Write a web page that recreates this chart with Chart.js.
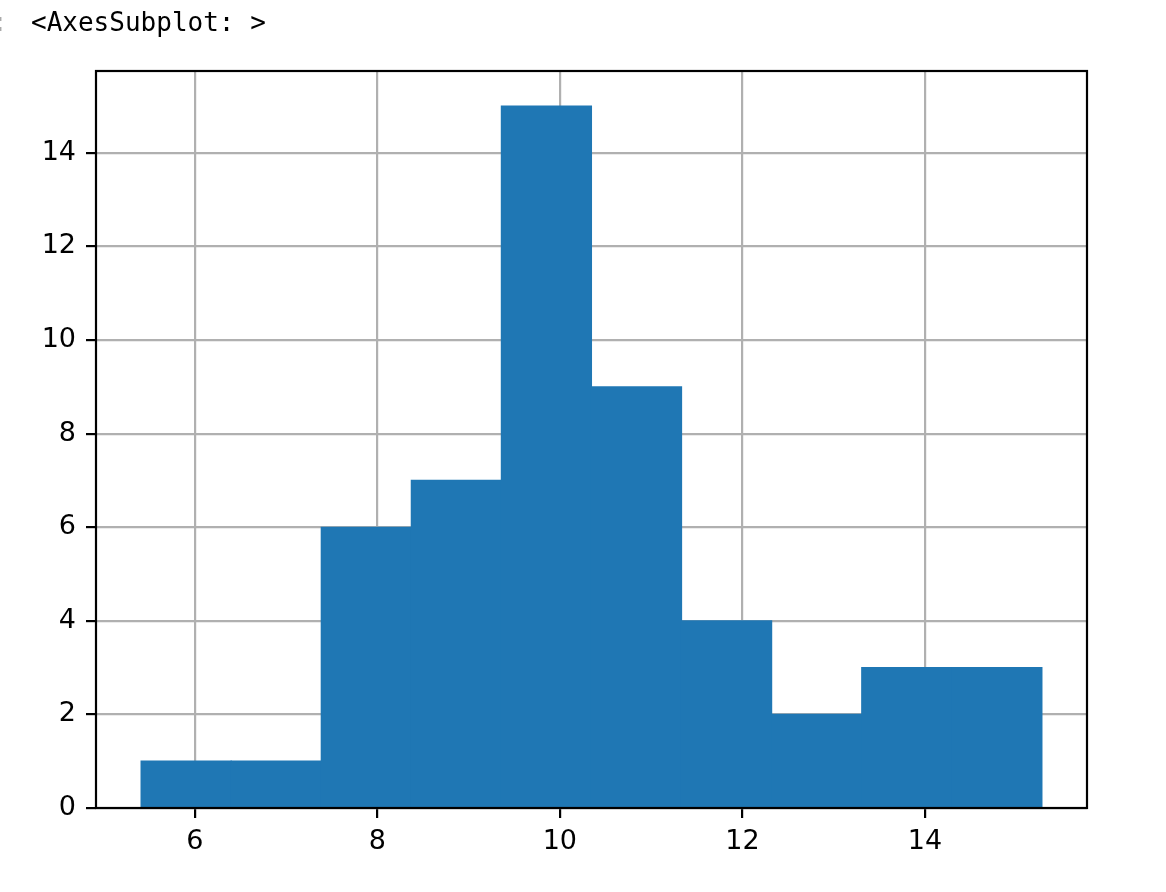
<!DOCTYPE html>
<html>
<head>
<meta charset="utf-8">
<title>Histogram</title>
<script src="https://cdn.jsdelivr.net/npm/chart.js@4.4.1/dist/chart.umd.min.js"></script>
<style>
  html, body { margin: 0; padding: 0; background: #fff; }
  #wrap { position: relative; width: 1166px; height: 892px; overflow: hidden; }
  canvas { position: absolute; left: 0; top: 0; }
  .out { position: absolute; top: 9px; font-family: "DejaVu Sans Mono", monospace; font-size: 26px; line-height: 26px; white-space: pre; z-index: 2; }
  #prompt { left: -8px; color: #aaa; }
  #repr { left: 31px; color: #000; }
</style>
</head>
<body>
<div id="wrap">
  <div class="out" id="prompt">:</div>
  <div class="out" id="repr">&lt;AxesSubplot: &gt;</div>
  <canvas id="hist" width="1166" height="892"></canvas>
</div>
<script>
// histogram bins (10 bins)
const binEdges = [5.412, 6.399, 7.386, 8.373, 9.359, 10.346, 11.333, 12.320, 13.307, 14.294, 15.281];
const binCounts = [1, 1, 6, 7, 15, 9, 4, 2, 3, 3];

// axes
const xTickValues = [6, 8, 10, 12, 14];
const yTickValues = [0, 2, 4, 6, 8, 10, 12, 14];
const xRange = [4.918, 15.775];
const yRange = [0, 15.75];

const barColor = '#1f77b4';
const gridColor = '#b0b0b0';
const tickFont = { family: 'DejaVu Sans', size: 27 };

// matplotlib draws a full box round the axes
const framePlugin = {
    id: 'frame',
    afterDraw(chart) {
        const { ctx, chartArea: a } = chart;
        ctx.save();
        ctx.strokeStyle = '#000';
        ctx.lineWidth = 2.2;
        ctx.strokeRect(a.left, a.top, a.right - a.left, a.bottom - a.top);
        ctx.restore();
    }
};

const ctx = document.getElementById('hist').getContext('2d');

new Chart(ctx, {
    type: 'bar',
    data: {
        datasets: [{
            data: binCounts.map((c, i) => ({ x: (binEdges[i] + binEdges[i + 1]) / 2, y: c })),
            backgroundColor: barColor,
            borderWidth: 0,
            inflateAmount: 0.6, // hide seams between touching bins
            barPercentage: 1,
            categoryPercentage: 1
        }]
    },
    options: {
        responsive: false,
        devicePixelRatio: 1,
        animation: false,
        layout: { padding: { left: 0, top: 71, right: 79, bottom: 0 } },
        plugins: {
            legend: { display: false },
            tooltip: { enabled: false }
        },
        scales: {
            x: {
                type: 'linear',
                min: xRange[0],
                max: xRange[1],
                offset: false,
                z: 1, // grid over the bars, like pandas' hist
                afterBuildTicks: (scale) => { scale.ticks = xTickValues.map(v => ({ value: v })); },
                afterFit: (scale) => { scale.height = 84; },
                grid: {
                    color: gridColor,
                    lineWidth: 2.2,
                    offset: false,
                    drawTicks: true,
                    tickLength: 10,
                    tickColor: '#000',
                    tickWidth: 2.2
                },
                border: { display: false },
                ticks: {
                    color: '#000',
                    font: tickFont,
                    padding: 8,
                    maxRotation: 0,
                    autoSkip: false
                }
            },
            y: {
                type: 'linear',
                min: yRange[0],
                max: yRange[1],
                z: 1,
                afterBuildTicks: (scale) => { scale.ticks = yTickValues.map(v => ({ value: v })); },
                afterFit: (scale) => { scale.width = 96; },
                grid: {
                    color: gridColor,
                    lineWidth: 2.2,
                    drawTicks: true,
                    tickLength: 10,
                    tickColor: '#000',
                    tickWidth: 2.2
                },
                border: { display: false },
                ticks: {
                    color: '#000',
                    font: tickFont,
                    padding: 10,
                    autoSkip: false
                }
            }
        }
    },
    plugins: [framePlugin]
});
</script>
</body>
</html>
